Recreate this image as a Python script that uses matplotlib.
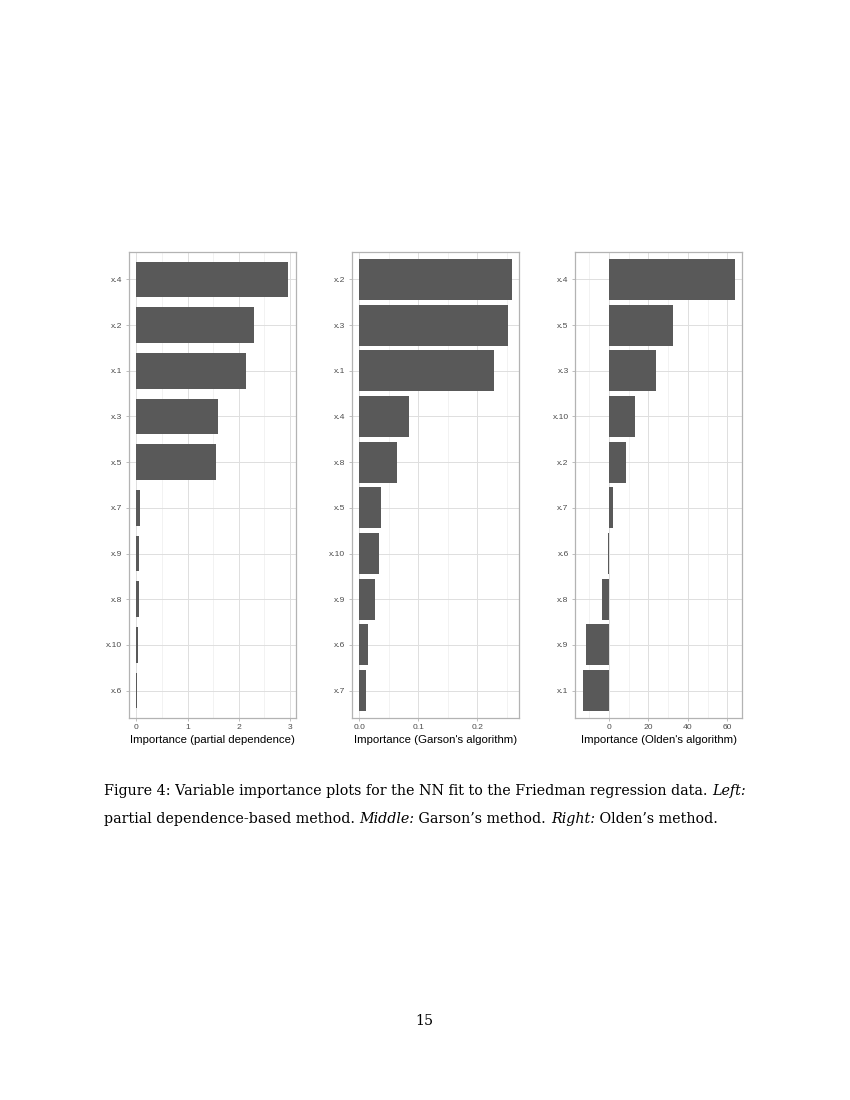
import matplotlib
matplotlib.use("Agg")
import matplotlib.pyplot as plt
from matplotlib.ticker import FixedLocator

# ---- data ----
pd_vars = ["x.4", "x.2", "x.1", "x.3", "x.5", "x.7", "x.9", "x.8", "x.10", "x.6"]
pd_vals = [2.97, 2.30, 2.15, 1.60, 1.55, 0.064, 0.060, 0.058, 0.025, 0.020]

garson_vars = ["x.2", "x.3", "x.1", "x.4", "x.8", "x.5", "x.10", "x.9", "x.6", "x.7"]
garson_vals = [0.2588, 0.2526, 0.228, 0.0837, 0.0639, 0.0362, 0.0328, 0.0271, 0.0153, 0.0108]

olden_vars = ["x.4", "x.5", "x.3", "x.10", "x.2", "x.7", "x.6", "x.8", "x.9", "x.1"]
olden_vals = [63.7, 32.5, 23.8, 13.2, 8.4, 2.2, -0.5, -3.5, -11.9, -13.4]

titles = ["Importance (partial dependence)", "Importance (Garson's algorithm)",
          "Importance (Olden's algorithm)"]
major_ticks = [[0, 1, 2, 3], [0.0, 0.1, 0.2], [0, 20, 40, 60]]
tick_labels = [["0", "1", "2", "3"], ["0.0", "0.1", "0.2"], ["0", "20", "40", "60"]]
minor_ticks = [[0.5, 1.5, 2.5], [0.05, 0.15, 0.25], [-10, 10, 30, 50]]

W, H = 850, 1100
fig = plt.figure(figsize=(8.5, 11), dpi=100)

lefts = [128.7, 351.7, 575.0]
rights = [296.0, 519.3, 742.3]
top_px, bot_px = 252.0, 718.0
widths = [0.78, 0.9, 0.9]

bar_color = "#595959"
grid_major = "#DEDEDE"
grid_minor = "#EBEBEB"
frame_col = "#B3B3B3"

panels = [(pd_vars, pd_vals), (garson_vars, garson_vals), (olden_vars, olden_vals)]

for i, (vars_, vals) in enumerate(panels):
    ax = fig.add_axes([lefts[i] / W, 1 - bot_px / H, (rights[i] - lefts[i]) / W,
                       (bot_px - top_px) / H])
    n = len(vars_)
    ypos = list(range(n, 0, -1))
    ax.barh(ypos, vals, height=widths[i], color=bar_color, zorder=3, linewidth=0)
    lo = min(0, min(vals)); hi = max(0, max(vals))
    pad = 0.05 * (hi - lo)
    ax.set_xlim(lo - pad, hi + pad)
    ax.set_ylim(0.4, n + 0.6)
    ax.set_yticks(ypos)
    ax.set_yticklabels(vars_)
    ax.xaxis.set_major_locator(FixedLocator(major_ticks[i]))
    ax.set_xticklabels(tick_labels[i])
    ax.xaxis.set_minor_locator(FixedLocator(minor_ticks[i]))
    ax.grid(True, which="major", color=grid_major, linewidth=0.7, zorder=0)
    ax.grid(True, which="minor", axis="x", color=grid_minor, linewidth=0.45, zorder=0)
    ax.set_axisbelow(True)
    for s in ax.spines.values():
        s.set_color(frame_col)
        s.set_linewidth(0.9)
    ax.tick_params(which="major", length=2.5, width=0.6, color=frame_col,
                   labelsize=6.1, labelcolor="#4D4D4D", pad=2)
    ax.tick_params(which="minor", length=0)
    for lab in ax.get_xticklabels() + ax.get_yticklabels():
        lab.set_fontfamily("Liberation Sans")
    ax.set_xlabel(titles[i], fontsize=8.2, family="Liberation Sans", color="black",
                  labelpad=2.5)

# ---- caption with mixed styles ----
fig.canvas.draw()
renderer = fig.canvas.get_renderer()
serif = "DejaVu Serif"
fs = 10.2

def put_line(pieces, x0, y_px, fs):
    x = x0
    for txt, style in pieces:
        t = fig.text(x / W, 1 - y_px / H, txt, fontsize=fs, family=serif,
                     style=style, va="baseline", ha="left", color="black")
        bb = t.get_window_extent(renderer=renderer)
        x += bb.width
    return x

line1 = [("Figure 4: Variable importance plots for the NN fit to the Friedman regression data. ", "normal"),
         ("Left:", "italic")]
tmp = fig.text(0, 0, line1[0][0], fontsize=fs, family=serif)
tmp2 = fig.text(0, 0, line1[1][0], fontsize=fs, family=serif, style="italic")
wtot = tmp.get_window_extent(renderer=renderer).width + tmp2.get_window_extent(renderer=renderer).width
tmp.remove(); tmp2.remove()
fs = fs * 640.0 / wtot

put_line(line1, 104, 795, fs)
line2 = [("partial dependence-based method. ", "normal"), ("Middle:", "italic"),
         (" Garson\u2019s method. ", "normal"), ("Right:", "italic"), (" Olden\u2019s method.", "normal")]
put_line(line2, 104, 823, fs)

fig.text(424 / W, 1 - 1025 / H, "15", fontsize=fs, family=serif, ha="center",
         va="baseline", color="black")

fig.savefig("out.png", dpi=100)
